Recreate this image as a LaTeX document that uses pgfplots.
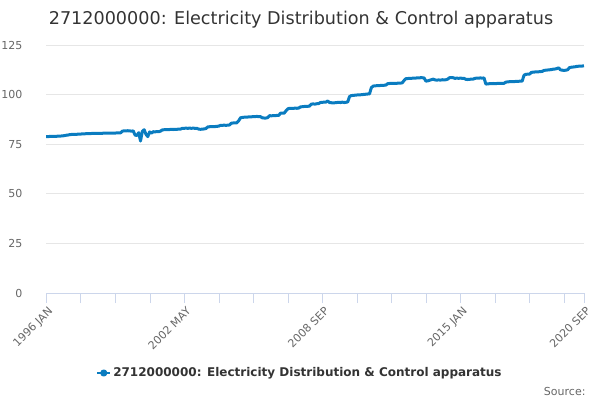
\documentclass[border=0pt]{standalone}
\usepackage{fontspec}
\setmainfont{DejaVu Sans}
\usepackage{pgfplots}
\pgfplotsset{compat=1.18}
\usepackage{pgfplotstable}

\definecolor{series}{RGB}{10,124,192}
\definecolor{gridc}{RGB}{230,230,230}
\definecolor{axisc}{RGB}{204,214,235}
\definecolor{labc}{RGB}{102,102,102}
\definecolor{titc}{RGB}{51,51,51}

% monthly index, 1996 JAN = 0 ... 2020 SEP = 296
\pgfplotstableread[row sep=\\]{
v\\
78.8\\ 78.8\\ 78.9\\ 78.9\\ 79.0\\ 79.0\\ 79.0\\ 79.1\\ 79.1\\ 79.2\\
79.3\\ 79.5\\ 79.6\\ 79.8\\ 79.9\\ 80.0\\ 80.0\\ 80.0\\ 80.1\\ 80.1\\
80.2\\ 80.2\\ 80.3\\ 80.3\\ 80.3\\ 80.4\\ 80.4\\ 80.4\\ 80.5\\ 80.5\\
80.5\\ 80.5\\ 80.6\\ 80.6\\ 80.6\\ 80.6\\ 80.6\\ 80.6\\ 80.6\\ 80.7\\
80.7\\ 80.7\\ 81.6\\ 81.7\\ 81.7\\ 81.8\\ 81.7\\ 81.6\\ 81.7\\ 79.6\\
79.4\\ 80.8\\ 76.6\\ 81.5\\ 82.3\\ 80.0\\ 78.8\\ 81.2\\ 80.6\\ 81.3\\
81.2\\ 81.4\\ 81.3\\ 81.6\\ 82.2\\ 82.3\\ 82.4\\ 82.3\\ 82.4\\ 82.5\\
82.4\\ 82.5\\ 82.5\\ 82.6\\ 82.6\\ 83.0\\ 83.0\\ 83.1\\ 83.0\\ 83.1\\
83.0\\ 83.1\\ 83.0\\ 83.0\\ 82.6\\ 82.5\\ 82.6\\ 82.7\\ 82.9\\ 83.7\\
83.8\\ 83.9\\ 83.8\\ 83.9\\ 84.0\\ 84.1\\ 84.5\\ 84.5\\ 84.6\\ 84.5\\
84.6\\ 84.7\\ 85.6\\ 85.7\\ 85.7\\ 85.8\\ 86.8\\ 88.3\\ 88.5\\ 88.6\\
88.6\\ 88.7\\ 88.8\\ 88.8\\ 88.9\\ 88.9\\ 89.0\\ 88.9\\ 88.9\\ 88.3\\
88.2\\ 88.2\\ 88.4\\ 89.4\\ 89.3\\ 89.4\\ 89.4\\ 89.5\\ 89.5\\ 90.6\\
90.7\\ 90.6\\ 91.8\\ 92.8\\ 93.1\\ 93.1\\ 93.0\\ 93.2\\ 93.1\\ 93.2\\
93.8\\ 93.9\\ 94.0\\ 94.1\\ 94.1\\ 94.2\\ 95.2\\ 95.3\\ 95.2\\ 95.4\\
95.5\\ 96.0\\ 96.1\\ 96.2\\ 96.2\\ 96.8\\ 96.0\\ 95.9\\ 95.8\\ 95.9\\
96.0\\ 96.1\\ 96.0\\ 96.2\\ 96.0\\ 96.1\\ 96.3\\ 99.0\\ 99.5\\ 99.6\\
99.7\\ 99.8\\ 99.8\\ 99.9\\ 100.0\\ 100.1\\ 100.2\\ 100.3\\ 100.4\\ 103.5\\
104.3\\ 104.4\\ 104.5\\ 104.5\\ 104.6\\ 104.7\\ 104.7\\ 104.8\\ 105.5\\ 105.6\\
105.6\\ 105.7\\ 105.7\\ 105.7\\ 105.8\\ 105.8\\ 105.9\\ 107.1\\ 108.0\\ 108.1\\
108.2\\ 108.2\\ 108.3\\ 108.3\\ 108.4\\ 108.4\\ 108.5\\ 108.5\\ 108.4\\ 106.8\\
106.9\\ 107.2\\ 107.5\\ 107.8\\ 107.4\\ 107.3\\ 107.4\\ 107.3\\ 107.5\\ 107.4\\
107.5\\ 107.8\\ 108.5\\ 108.6\\ 108.5\\ 108.2\\ 108.3\\ 108.2\\ 108.3\\ 108.2\\
108.2\\ 107.7\\ 107.6\\ 107.7\\ 107.8\\ 107.8\\ 108.2\\ 108.3\\ 108.3\\ 108.4\\
108.3\\ 108.4\\ 105.3\\ 105.4\\ 105.5\\ 105.5\\ 105.6\\ 105.5\\ 105.6\\ 105.6\\
105.7\\ 105.6\\ 105.7\\ 106.3\\ 106.4\\ 106.5\\ 106.5\\ 106.6\\ 106.6\\ 106.7\\
106.7\\ 106.8\\ 106.8\\ 109.8\\ 110.2\\ 110.3\\ 110.3\\ 111.2\\ 111.3\\ 111.4\\
111.5\\ 111.5\\ 111.6\\ 111.7\\ 112.2\\ 112.3\\ 112.4\\ 112.5\\ 112.6\\ 112.8\\
112.9\\ 113.1\\ 113.5\\ 112.5\\ 112.3\\ 112.2\\ 112.3\\ 112.5\\ 113.6\\ 113.8\\
113.9\\ 114.0\\ 114.2\\ 114.3\\ 114.4\\ 114.4\\ 114.5\\
}\series

\begin{document}
\begin{tikzpicture}
  \path[use as bounding box] (0pt,0pt) rectangle (600pt,400pt);
  \node[text=titc, font=\fontsize{17.6}{21}\selectfont] at (301pt,380pt) {2712000000: Electricity Distribution \& Control apparatus};
  \node[text=labc, font=\fontsize{11}{13}\selectfont, anchor=east] at (589pt,9pt) {Source:};
  \begin{axis}[
      at={(46pt,107pt)}, anchor=origin,
      scale only axis,
      width=538pt, height=248pt,
      xmin=0, xmax=296,
      ymin=0, ymax=125,
      ytick={0,25,50,75,100,125},
      xtick={0,19,38,57,76,95,114,133,152,171,190,209,228,247,266,285,296},
      xticklabels={1996 JAN,,,,2002 MAY,,,,2008 SEP,,,,2015 JAN,,,,2020 SEP},
      axis x line*=bottom,
      axis y line*=left,
      x axis line style={-, draw=axisc},
      y axis line style={draw=none},
      xtick style={draw=axisc},
      ytick style={draw=none},
      tick align=outside,
      major tick length=10pt,
      ymajorgrids,
      grid style={gridc, line width=0.8pt},
      /pgf/number format/assume math mode=true,
      ticklabel style={text=labc, font=\fontsize{11}{13}\selectfont},
      xticklabel style={rotate=45, anchor=north east, inner sep=1pt, yshift=-2pt},
      yticklabel style={xshift=-10pt},
      legend style={at={(0.472,-0.3226)}, anchor=center, draw=none,
        font=\bfseries\fontsize{12}{14}\selectfont, text=titc},
      legend image code/.code={
        \draw[series, line width=2pt] (0pt,0pt) -- (13pt,0pt);
        \fill[series] (6.5pt,0pt) circle (2pt);
      },
    ]
    \addplot[series, line width=3pt, line join=round] table[x expr=\coordindex, y=v] {\series};
    \legend{2712000000: Electricity Distribution \& Control apparatus}
  \end{axis}
\end{tikzpicture}
\end{document}
